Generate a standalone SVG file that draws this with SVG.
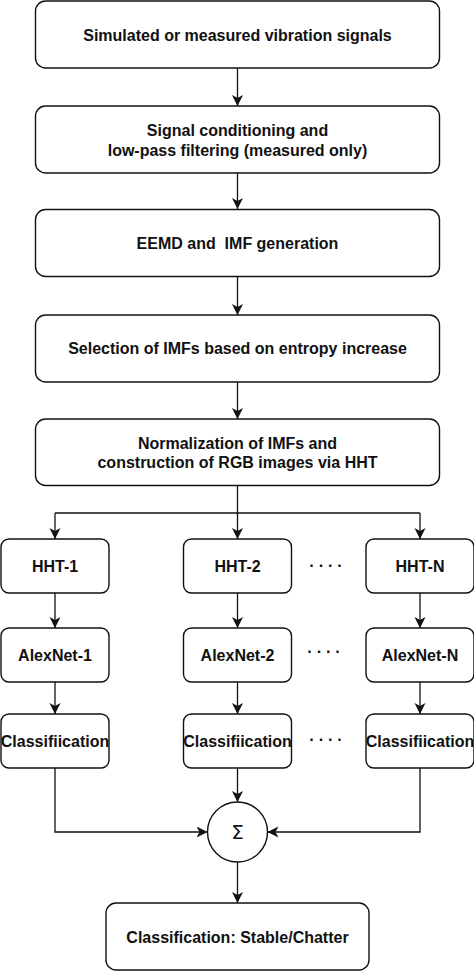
<svg xmlns="http://www.w3.org/2000/svg" width="474" height="971" viewBox="0 0 474 971">
<style>
.box{fill:#fff;stroke:#111;stroke-width:1.4}
.t{font-family:"Liberation Sans",Arial,sans-serif;font-weight:bold;font-size:16px;fill:#111;text-anchor:middle}
.dots{font-family:"Liberation Sans",Arial,sans-serif;font-weight:bold;font-size:16px;fill:#111;text-anchor:middle;letter-spacing:4px}
.c{fill:none;stroke:#111;stroke-width:1.3}
</style>
<defs>
<marker id="ar" markerUnits="userSpaceOnUse" markerWidth="12" markerHeight="12" refX="11" refY="5.5" orient="auto">
<path d="M0,0 L11,5.5 L0,11 L3,5.5 Z" fill="#111"/>
</marker>
</defs>
<rect width="474" height="971" fill="#fff"/>
<g id="connectors">
<path class="c" marker-end="url(#ar)" d="M237.5,68 V106"/>
<path class="c" marker-end="url(#ar)" d="M237.5,173 V209"/>
<path class="c" marker-end="url(#ar)" d="M237.5,277 V315"/>
<path class="c" marker-end="url(#ar)" d="M237.5,382 V419"/>
<path class="c" d="M237.5,485 V513"/>
<path class="c" d="M55,513 H420"/>
<path class="c" marker-end="url(#ar)" d="M55,513 V539"/>
<path class="c" marker-end="url(#ar)" d="M237.5,513 V539"/>
<path class="c" marker-end="url(#ar)" d="M420,513 V539"/>
<path class="c" marker-end="url(#ar)" d="M55,593 V628"/>
<path class="c" marker-end="url(#ar)" d="M237.5,593 V628"/>
<path class="c" marker-end="url(#ar)" d="M420,593 V628"/>
<path class="c" marker-end="url(#ar)" d="M55,682 V714"/>
<path class="c" marker-end="url(#ar)" d="M237.5,682 V714"/>
<path class="c" marker-end="url(#ar)" d="M420,682 V714"/>
<path class="c" marker-end="url(#ar)" d="M55,768 V832 H207.5"/>
<path class="c" marker-end="url(#ar)" d="M237.5,768 V802"/>
<path class="c" marker-end="url(#ar)" d="M420,768 V832 H267.5"/>
<path class="c" marker-end="url(#ar)" d="M237.5,862 V903"/>
</g>
<g id="n1"><rect class="box" x="35.5" y="1" width="404" height="67" rx="10"/><text class="t" x="237.5" y="41">Simulated or measured vibration signals</text></g>
<g id="n2"><rect class="box" x="35.5" y="106" width="404" height="67" rx="10"/><text class="t" x="237.5" y="136">Signal conditioning and</text><text class="t" x="237.5" y="156">low-pass filtering (measured only)</text></g>
<g id="n3"><rect class="box" x="35.5" y="209.5" width="404" height="67" rx="10"/><text class="t" x="237.5" y="249" xml:space="preserve">EEMD and  IMF generation</text></g>
<g id="n4"><rect class="box" x="35.5" y="315" width="404" height="67" rx="10"/><text class="t" x="237.5" y="354">Selection of IMFs based on entropy increase</text></g>
<g id="n5"><rect class="box" x="35.5" y="419" width="404" height="66.5" rx="10"/><text class="t" x="237.5" y="449">Normalization of IMFs and</text><text class="t" x="237.5" y="468">construction of RGB images via HHT</text></g>
<g id="hht1"><rect class="box" x="1" y="539" width="108" height="54" rx="8"/><text class="t" x="55" y="572">HHT-1</text></g>
<g id="hht2"><rect class="box" x="183.5" y="539" width="108" height="54" rx="8"/><text class="t" x="237.5" y="572">HHT-2</text></g>
<g id="hhtn"><rect class="box" x="366" y="539" width="108" height="54" rx="8"/><text class="t" x="420" y="572">HHT-N</text></g>
<g id="alex1"><rect class="box" x="1" y="628" width="108" height="54" rx="8"/><text class="t" x="55" y="661">AlexNet-1</text></g>
<g id="alex2"><rect class="box" x="183.5" y="628" width="108" height="54" rx="8"/><text class="t" x="237.5" y="661">AlexNet-2</text></g>
<g id="alexn"><rect class="box" x="366" y="628" width="108" height="54" rx="8"/><text class="t" x="420" y="661">AlexNet-N</text></g>
<g id="cls1"><rect class="box" x="1" y="714" width="108" height="54" rx="8"/><text class="t" x="55" y="747">Classifiication</text></g>
<g id="cls2"><rect class="box" x="183.5" y="714" width="108" height="54" rx="8"/><text class="t" x="237.5" y="747">Classifiication</text></g>
<g id="clsn"><rect class="box" x="366" y="714" width="108" height="54" rx="8"/><text class="t" x="420" y="747">Classifiication</text></g>
<g id="dots">
<text class="dots" x="328" y="571">····</text>
<text class="dots" x="326" y="657">····</text>
<text class="dots" x="328" y="745">····</text>
</g>
<g id="sum"><circle class="box" cx="237.5" cy="832" r="30"/><text x="237.5" y="839" text-anchor="middle" font-family="'DejaVu Sans',sans-serif" font-size="20" fill="#111">Σ</text></g>
<g id="final"><rect class="box" x="106" y="903" width="263" height="67" rx="10"/><text class="t" x="237.5" y="943">Classification: Stable/Chatter</text></g>
</svg>
